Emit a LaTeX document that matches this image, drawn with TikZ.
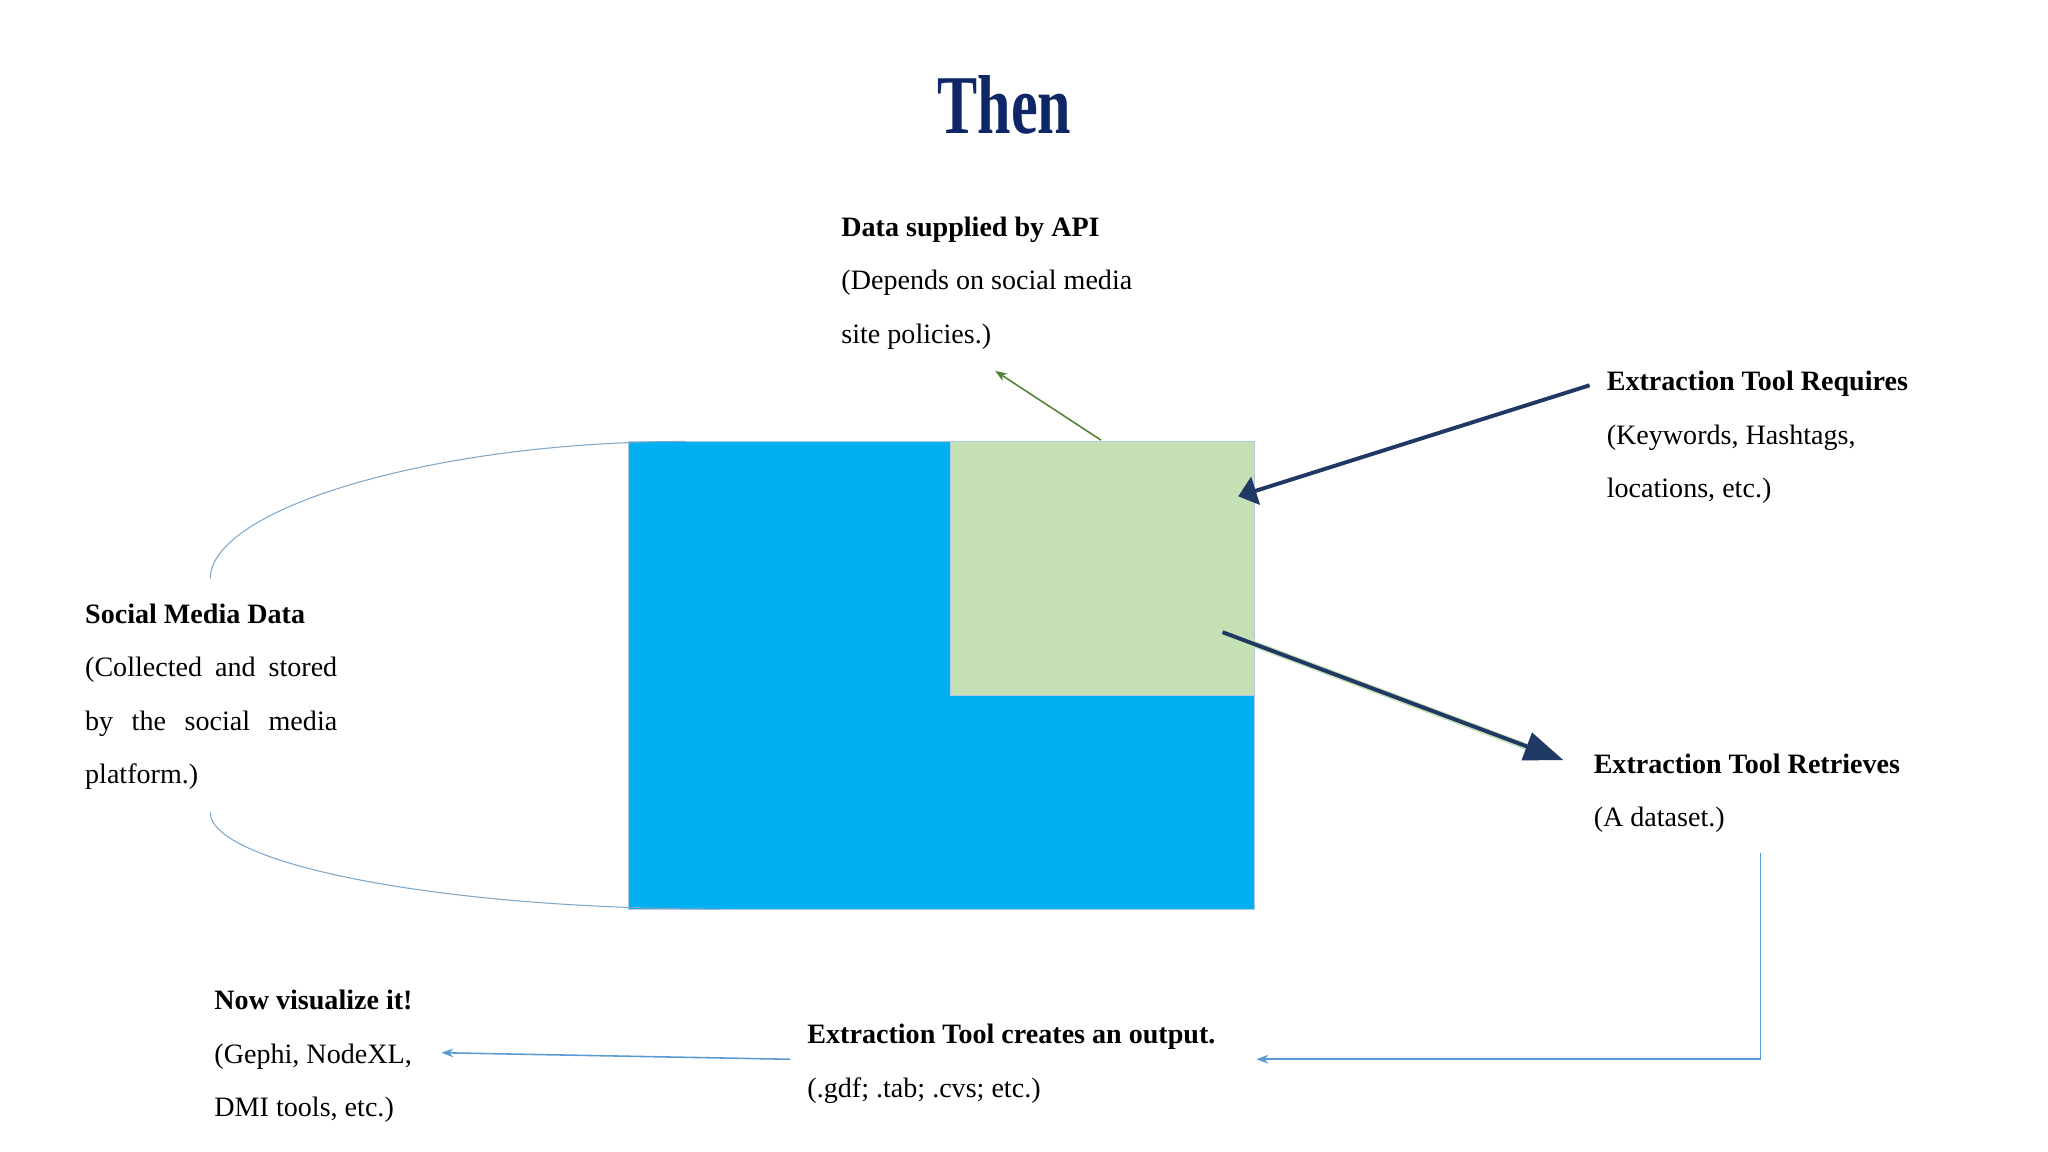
\documentclass[tikz,border=0pt]{standalone}
\usepackage{fontspec}
\setmainfont{Liberation Serif}
\usetikzlibrary{arrows.meta}
\definecolor{navy}{HTML}{0F2766}
\definecolor{dnavy}{HTML}{1F3864}
\definecolor{cyanb}{HTML}{00B0F0}
\definecolor{lgreen}{HTML}{C5E0B4}
\definecolor{gline}{HTML}{548235}
\definecolor{bline}{HTML}{5B9BD5}
\definecolor{arcc}{HTML}{7FA7C9}
\begin{document}
\begin{tikzpicture}[x=1pt,y=-1pt,
  txt/.style={anchor=base west,inner sep=0pt,font=\fontsize{21.5}{41}\selectfont,align=left},
  bigarrow/.style={draw=dnavy,line width=3pt,-{Triangle[length=30pt,width=22pt]}}]
\useasboundingbox[fill=white] (0,0) rectangle (1568,882);
\node[anchor=center,text=navy,font=\fontsize{64}{64}\selectfont] (title) at (769,80) {\scalebox{0.72}[1]{\textbf{Then}}};
\node[draw=arcc!60,fill=cyanb,minimum width=479pt,minimum height=358pt,anchor=north west,inner sep=0pt] (blue) at (481,338) {};
\node[draw=arcc!60,fill=lgreen,minimum width=233pt,minimum height=194pt,anchor=north west,inner sep=0pt] (green) at (727,338) {};
\coordinate (a1) at (161,443); \coordinate (a2) at (525,338);
\coordinate (b1) at (161,622); \coordinate (b2) at (552,696);
\draw[arcc,line width=0.8pt] (a1) .. controls (161,390) and (330,338) .. (a2);
\draw[arcc,line width=0.8pt] (b1) .. controls (161,660) and (330,696) .. (b2);
\node[txt] (api) at (644,263) {\textbf{Data supplied by API}\\(Depends on social media\\site policies.)};
\node[txt] (req) at (1230,381) {\textbf{Extraction Tool Requires}\\(Keywords, Hashtags,\\locations, etc.)};
\node[txt] (smd) at (65,600) {\textbf{Social Media Data}\\\makebox[193pt][s]{(Collected and stored}\\\makebox[193pt][s]{by the social media}\\platform.)};
\node[txt] (ret) at (1220,633) {\textbf{Extraction Tool Retrieves}\\(A dataset.)};
\node[txt] (out) at (618,840) {\textbf{Extraction Tool creates an output.}\\(.gdf; .tab; .cvs; etc.)};
\node[txt] (vis) at (164,855) {\textbf{Now visualize it!}\\(Gephi, NodeXL,\\DMI tools, etc.)};
\coordinate (g1) at (843,337); \coordinate (g2) at (762,284);
\draw[gline,line width=1.2pt,-{Stealth[length=9pt]}] (g1) -- (g2);
\coordinate (r1) at (1217,295); \coordinate (r2) at (948,380);
\draw[bigarrow,-{Triangle[length=14pt,width=22pt]}] (r1) -- (r2);
\coordinate (t1) at (936,484); \coordinate (t2) at (1197,582);
\draw[lgreen,line width=5pt] (t1) -- (1180,576);
\draw[bigarrow] (t1) -- (t2);
\coordinate (c1) at (1348,653); \coordinate (c2) at (962,811);
\draw[bline,line width=1.2pt,-{Stealth[length=9pt]}] (c1) |- (c2);
\coordinate (d1) at (605,811); \coordinate (d2) at (338,806);
\draw[bline,line width=1.2pt,-{Stealth[length=9pt]}] (d1) -- (d2);
\end{tikzpicture}
\end{document}
